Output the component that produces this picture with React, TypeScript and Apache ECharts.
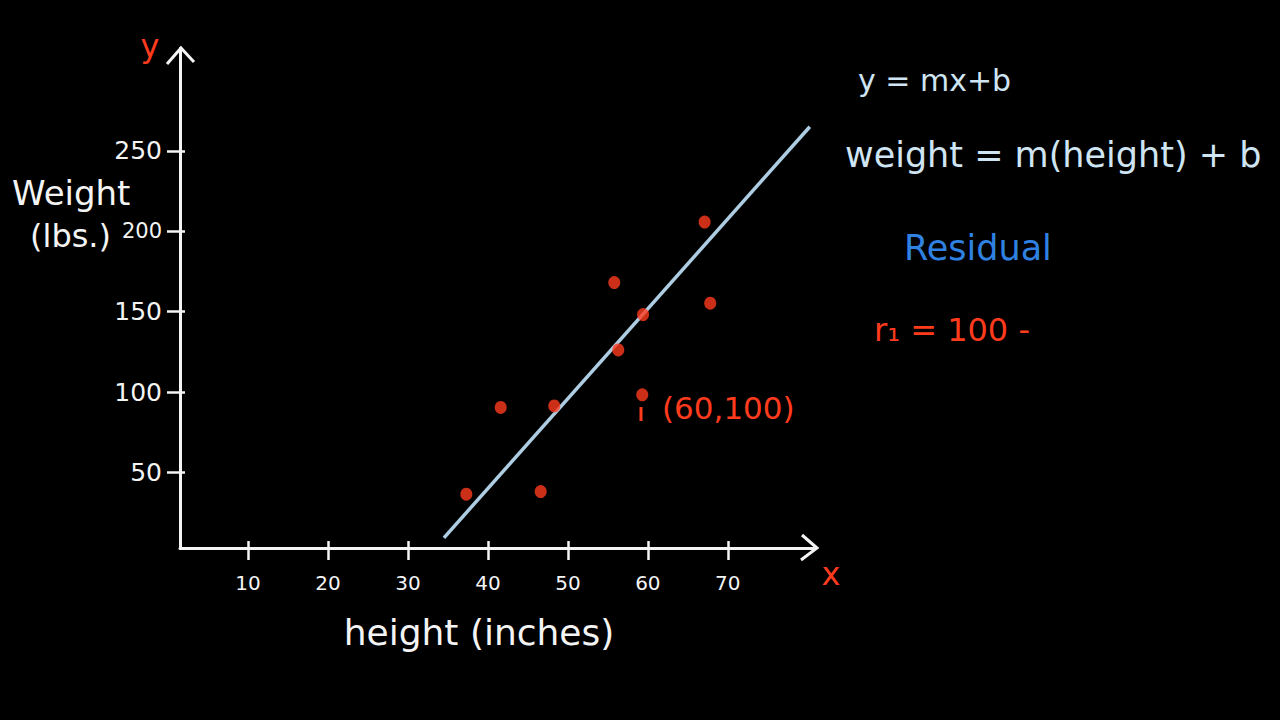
import React, { useEffect, useRef } from "react";
import * as echarts from "echarts";

// Data
const heights = [37.3, 41.6, 46.6, 48.3, 55.8, 56.3, 59.4, 59.3, 67.1, 67.8];
const weights = [36.5, 90.4, 38.1, 91.4, 168.1, 126.2, 148.2, 98.3, 205.7, 155.3];
const fitX = [34.5, 80.25];
const fitY = [9.3, 265];
const xTicks = [10, 20, 30, 40, 50, 60, 70];
const yTicks = [50, 100, 150, 200, 250];

const X_MIN = 1.5, X_MAX = 80.9, Y_MIN = 3, Y_MAX = 314;
const GL = 180, GT = 48, GW = 635, GH = 500;

const FONT = "'DejaVu Sans', 'Noto Sans', sans-serif";
const WHITE = "#f4f4f4";
const RED = "#ff3b1e";
const LIGHT = "#cfe5f3";
const LINE = "#aecde3";
const BLUE = "#2f82e2";

export default function App() {
  const ref = useRef<HTMLDivElement>(null);
  useEffect(() => {
    if (!ref.current) return;
    const chart = echarts.init(ref.current, undefined, { renderer: "svg" });
    const axisLineStyle = { color: WHITE, width: 3 };
    const tickStyle = { color: WHITE, width: 2.5 };
    const bx = GL + GW; // x arrow tip
    const by = GT + GH; // x axis y
    chart.setOption({
      animation: false,
      backgroundColor: "#000",
      grid: { left: GL, top: GT, width: GW, height: GH, outerBoundsMode: "none", containLabel: false },
      xAxis: [
        {
          type: "value", min: X_MIN, max: X_MAX, position: "bottom",
          axisLine: { show: true, onZero: false, lineStyle: axisLineStyle },
          axisTick: { show: true, customValues: xTicks, length: 12, lineStyle: tickStyle },
          axisLabel: { show: true, customValues: xTicks, color: WHITE, fontSize: 20, margin: 25, fontFamily: FONT },
          splitLine: { show: false },
        },
        {
          type: "value", min: X_MIN, max: X_MAX, position: "top", offset: -GH,
          axisLine: { show: false },
          axisTick: { show: true, customValues: xTicks, length: 7, lineStyle: tickStyle },
          axisLabel: { show: false },
          splitLine: { show: false },
        },
      ],
      yAxis: [
        {
          type: "value", min: Y_MIN, max: Y_MAX, position: "left",
          axisLine: { show: true, onZero: false, lineStyle: axisLineStyle },
          axisTick: { show: true, customValues: yTicks, length: 13, lineStyle: tickStyle },
          axisLabel: {
            show: true, customValues: yTicks, color: WHITE, fontSize: 25, margin: 18, fontFamily: FONT,
            formatter: (v: number) => (v === 200 ? "{s|200}" : String(v)),
            rich: { s: { fontSize: 21, color: WHITE, fontFamily: FONT } },
          },
          splitLine: { show: false },
        },
        {
          type: "value", min: Y_MIN, max: Y_MAX, position: "right", offset: -GW,
          axisLine: { show: false },
          axisTick: { show: true, customValues: yTicks, length: 5, lineStyle: tickStyle },
          axisLabel: { show: false },
          splitLine: { show: false },
        },
      ],
      series: [
        {
          type: "line",
          data: fitX.map((x, i) => [x, fitY[i]]),
          symbol: "none",
          lineStyle: { color: LINE, width: 3.5 },
          z: 2,
        },
        {
          type: "scatter",
          data: heights.map((h, i) => [h, weights[i]]),
          symbol: "circle",
          symbolSize: [12, 13],
          itemStyle: { color: RED },
          z: 3,
        },
      ],
      graphic: [
        // axis arrows
        { type: "polyline", shape: { points: [[GL - 13, GT + 16], [GL + 1, GT], [GL + 14, GT + 14]] },
          style: { stroke: WHITE, lineWidth: 3, fill: null } },
        { type: "polyline", shape: { points: [[bx - 13, by - 13], [bx + 2, by], [bx - 14, by + 12]] },
          style: { stroke: WHITE, lineWidth: 3, fill: null } },
        // axis letters
        { type: "text", x: 150, y: 46, style: { text: "y", fill: RED, font: `32px ${FONT}`, align: "center", verticalAlign: "middle" } },
        { type: "text", x: 831, y: 574, style: { text: "x", fill: RED, font: `32px ${FONT}`, align: "center", verticalAlign: "middle" } },
        // axis titles
        { type: "text", x: 12, y: 193, style: { text: "Weight", fill: WHITE, font: `34px ${FONT}`, align: "left", verticalAlign: "middle" } },
        { type: "text", x: 30, y: 236, style: { text: "(lbs.)", fill: WHITE, font: `32px ${FONT}`, align: "left", verticalAlign: "middle" } },
        { type: "text", x: 479, y: 632, style: { text: "height (inches)", fill: WHITE, font: `36px ${FONT}`, align: "center", verticalAlign: "middle" } },
        // right-side notes
        { type: "text", x: 858, y: 80, style: { text: "y = mx+b", fill: LIGHT, font: `30px ${FONT}`, align: "left", verticalAlign: "middle" } },
        { type: "text", x: 845, y: 155, style: { text: "weight = m(height) + b", fill: LIGHT, font: `35px ${FONT}`, align: "left", verticalAlign: "middle" } },
        { type: "text", x: 904, y: 248, style: { text: "Residual", fill: BLUE, font: `35px ${FONT}`, align: "left", verticalAlign: "middle" } },
        { type: "text", x: 874, y: 330, style: { text: "r\u2081 = 100 -", fill: RED, font: `32px ${FONT}`, align: "left", verticalAlign: "middle" } },
        // point note
        { type: "text", x: 662, y: 408, style: { text: "(60,100)", fill: RED, font: `31px ${FONT}`, align: "left", verticalAlign: "middle" } },
        { type: "line", shape: { x1: 641, y1: 407, x2: 641, y2: 421 }, style: { stroke: RED, lineWidth: 3 } },
      ],
    });
    return () => chart.dispose();
  }, []);
  return (
    <div
      ref={ref}
      style={{ position: "fixed", left: 0, top: 0, width: 1280, height: 720, background: "#000" }}
    />
  );
}
